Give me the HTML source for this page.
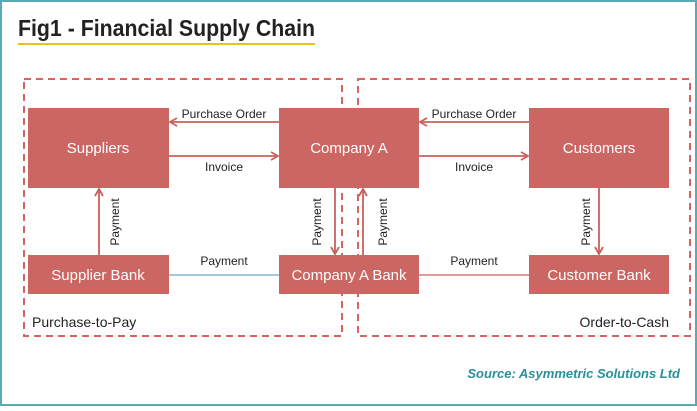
<!DOCTYPE html>
<html><head><style>
body{margin:0;width:697px;height:406px;background:#fff;overflow:hidden;font-family:"Liberation Sans",sans-serif}
</style></head><body>
<svg width="697" height="406" xmlns="http://www.w3.org/2000/svg" font-family="Liberation Sans, sans-serif">
<defs>
<marker id="a" markerWidth="10" markerHeight="10" refX="8" refY="5" orient="auto" markerUnits="userSpaceOnUse"><path d="M1,1 L8,5 L1,9" fill="none" stroke="#c9605c" stroke-width="1.8"/></marker>
</defs>
<rect x="1" y="1" width="695" height="404" fill="none" stroke="#5aa9b6" stroke-width="2"/>
<text x="18" y="36" font-size="23" font-weight="bold" fill="#222" textLength="297" lengthAdjust="spacingAndGlyphs">Fig1 - Financial Supply Chain</text>
<rect x="18" y="43" width="297" height="2" fill="#e6c21e"/>
<g fill="none" stroke="#d9635e" stroke-width="2" stroke-dasharray="7,5">
<rect x="24" y="79" width="318" height="257"/>
<rect x="358" y="79" width="332" height="257"/>
</g>
<g fill="#cc6662">
<rect x="28" y="108" width="141" height="80"/>
<rect x="279" y="108" width="140" height="80"/>
<rect x="529" y="108" width="140" height="80"/>
<rect x="28" y="255" width="141" height="39"/>
<rect x="279" y="255" width="140" height="39"/>
<rect x="529" y="255" width="140" height="39"/>
</g>
<g fill="#fff" font-size="15" text-anchor="middle">
<text x="98" y="153">Suppliers</text>
<text x="349" y="153">Company A</text>
<text x="599" y="153">Customers</text>
<text x="98" y="280">Supplier Bank</text>
<text x="349" y="280">Company A Bank</text>
<text x="599" y="280">Customer Bank</text>
</g>
<g stroke="#c9605c" stroke-width="1.8" marker-end="url(#a)">
<line x1="279" y1="122" x2="170" y2="122"/>
<line x1="169" y1="156" x2="278" y2="156"/>
<line x1="529" y1="122" x2="420" y2="122"/>
<line x1="419" y1="156" x2="528" y2="156"/>
<line x1="99" y1="255" x2="99" y2="189"/>
<line x1="335" y1="188" x2="335" y2="254"/>
<line x1="363" y1="255" x2="363" y2="189"/>
<line x1="599" y1="188" x2="599" y2="254"/>
</g>
<line x1="169" y1="275" x2="279" y2="275" stroke="#6fa3c8" stroke-width="1.3"/>
<line x1="419" y1="275" x2="529" y2="275" stroke="#c9605c" stroke-width="1.3"/>
<g font-size="12" fill="#222" text-anchor="middle">
<text x="224" y="118">Purchase Order</text>
<text x="224" y="171">Invoice</text>
<text x="474" y="118">Purchase Order</text>
<text x="474" y="171">Invoice</text>
<text x="224" y="265">Payment</text>
<text x="474" y="265">Payment</text>
<text transform="translate(119,222) rotate(-90)">Payment</text>
<text transform="translate(321,222) rotate(-90)">Payment</text>
<text transform="translate(387,222) rotate(-90)">Payment</text>
<text transform="translate(590,222) rotate(-90)">Payment</text>
</g>
<text x="32" y="327" font-size="14" fill="#222">Purchase-to-Pay</text>
<text x="669" y="327" font-size="14" fill="#222" text-anchor="end">Order-to-Cash</text>
<text x="680" y="378" font-size="13" font-weight="bold" font-style="italic" fill="#2a8f9a" text-anchor="end">Source: Asymmetric Solutions Ltd</text>
</svg>
</body></html>
